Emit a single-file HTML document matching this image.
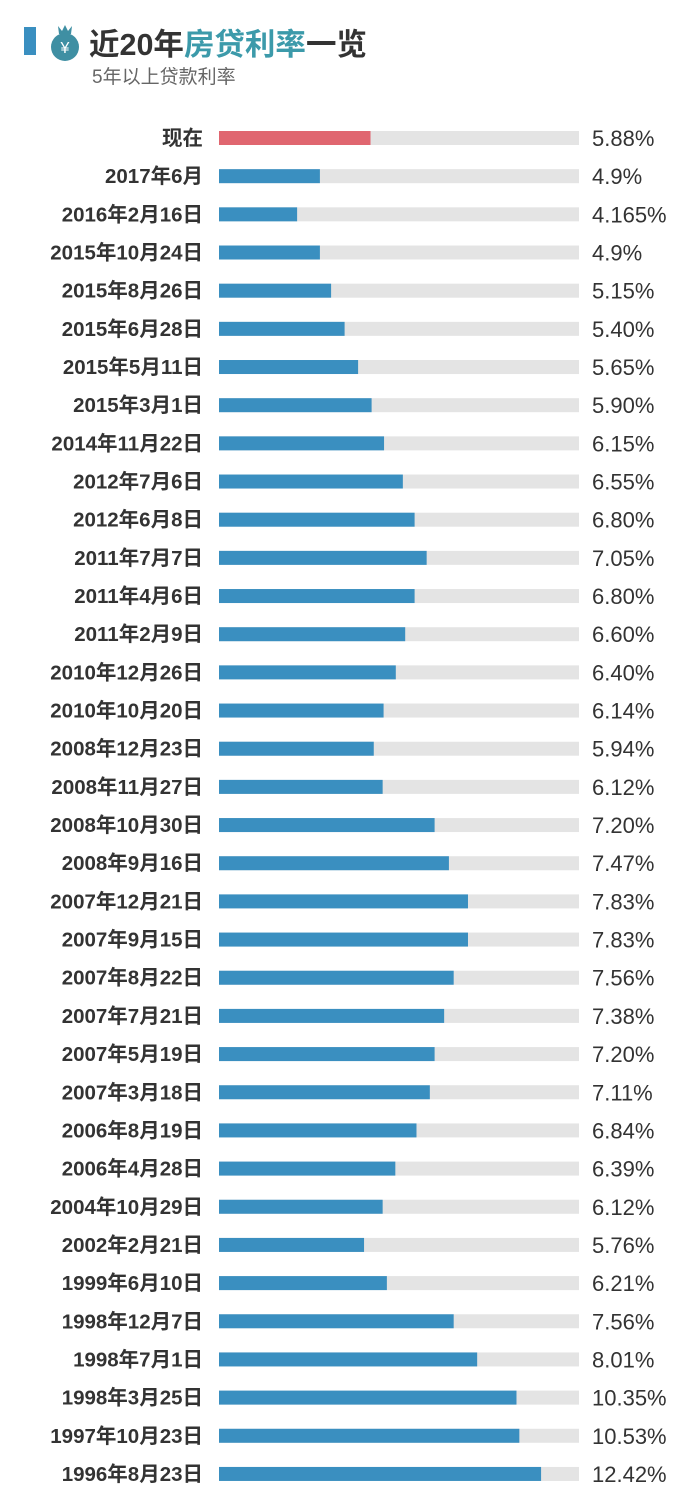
<!DOCTYPE html>
<html><head><meta charset="utf-8">
<style>
body{margin:0;width:680px;height:1496px;background:#fff;font-family:"Liberation Sans","Noto Sans CJK SC",sans-serif;overflow:hidden;position:relative}
.t{position:absolute;white-space:nowrap}
</style></head><body>
<div style="position:absolute;left:24px;top:27px;width:12px;height:28px;background:#3a8fc0"></div>
<svg style="position:absolute;left:48px;top:22px" width="34" height="40" viewBox="0 0 34 40">
<path d="M10 4 L14 9 L17 3 L20 9 L24 4 L23 12 L11 12 Z" fill="#3f8fa3"/>
<circle cx="17" cy="25" r="14" fill="#3f8fa3"/>
<text x="17" y="31" font-size="16" fill="#fff" text-anchor="middle" font-family="Liberation Sans">¥</text>
</svg>
<div class="t" style="left:89px;top:20px;font-size:30.5px;font-weight:bold;color:#333">近20年<span style="color:#3c9aaa">房贷利率</span>一览</div>
<div class="t" style="left:92px;top:62px;font-size:19px;color:#666">5年以上贷款利率</div>
<svg id="chart" style="position:absolute;left:0;top:0" width="680" height="1496"></svg>
<script>
const labels=["现在","2017年6月","2016年2月16日","2015年10月24日","2015年8月26日","2015年6月28日","2015年5月11日","2015年3月1日","2014年11月22日","2012年7月6日","2012年6月8日","2011年7月7日","2011年4月6日","2011年2月9日","2010年12月26日","2010年10月20日","2008年12月23日","2008年11月27日","2008年10月30日","2008年9月16日","2007年12月21日","2007年9月15日","2007年8月22日","2007年7月21日","2007年5月19日","2007年3月18日","2006年8月19日","2006年4月28日","2004年10月29日","2002年2月21日","1999年6月10日","1998年12月7日","1998年7月1日","1998年3月25日","1997年10月23日","1996年8月23日"];
const values=[5.88,4.9,4.165,4.9,5.15,5.40,5.65,5.90,6.15,6.55,6.80,7.05,6.80,6.60,6.40,6.14,5.94,6.12,7.20,7.47,7.83,7.83,7.56,7.38,7.20,7.11,6.84,6.39,6.12,5.76,6.21,7.56,8.01,10.35,10.53,12.42];
const valueText=["5.88%","4.9%","4.165%","4.9%","5.15%","5.40%","5.65%","5.90%","6.15%","6.55%","6.80%","7.05%","6.80%","6.60%","6.40%","6.14%","5.94%","6.12%","7.20%","7.47%","7.83%","7.83%","7.56%","7.38%","7.20%","7.11%","6.84%","6.39%","6.12%","5.76%","6.21%","7.56%","8.01%","10.35%","10.53%","12.42%"];
const knotV=[4,5,6,7,8,10.5,12.5], knotW=[73,104,158,205,258,300,323];
function xw(v){for(let i=0;i<knotV.length-1;i++){if(v<=knotV[i+1]){const t=(v-knotV[i])/(knotV[i+1]-knotV[i]);return knotW[i]+t*(knotW[i+1]-knotW[i]);}}return knotW[knotW.length-1];}
function yc(i){return 138+i*38.17;}
const svg=document.getElementById('chart'),NS='http://www.w3.org/2000/svg';
const X0=219,TW=360,BH=14;
labels.forEach((l,i)=>{
 const y=yc(i);
 const tr=document.createElementNS(NS,'rect');
 
 
 tr.setAttribute('x',X0);tr.setAttribute('y',y-BH/2);tr.setAttribute('width',TW);tr.setAttribute('height',BH);tr.setAttribute('fill','#e4e4e4');svg.appendChild(tr);
 const b=document.createElementNS(NS,'rect');
 
 
 b.setAttribute('x',X0);b.setAttribute('y',y-BH/2);b.setAttribute('width',xw(values[i]));b.setAttribute('height',BH);b.setAttribute('fill',i==0?'#e06670':'#3a8fc0');svg.appendChild(b);
 const t=document.createElementNS(NS,'text');
 
 
 t.setAttribute('x',203);t.setAttribute('y',y+7);t.setAttribute('text-anchor','end');t.setAttribute('font-size','20.5');t.setAttribute('fill','#333');t.setAttribute('font-weight','bold');t.textContent=l;svg.appendChild(t);
 const v=document.createElementNS(NS,'text');
 
 
 v.setAttribute('x',592);v.setAttribute('y',y+8);v.setAttribute('font-size','22');v.setAttribute('fill','#333');v.textContent=valueText[i];svg.appendChild(v);
});
</script>
</body></html>
